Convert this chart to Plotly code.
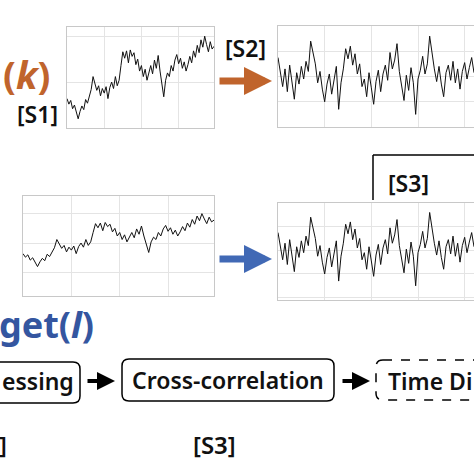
import plotly.graph_objects as go

raw = [3.2,2.6,3.0,2.1,2.5,1.6,1.0,1.8,2.4,2.0,3.1,2.7,3.6,4.2,5.6,4.8,4.1,4.6,3.5,4.3,3.8,4.5,3.2,4.4,5.0,4.3,5.6,4.6,5.2,6.8,
       8.3,7.6,8.4,7.1,8.5,7.8,8.2,6.9,7.5,6.2,6.8,5.6,6.4,5.2,6.0,6.8,5.9,7.4,6.5,7.9,6.2,5.0,3.4,5.2,6.0,5.6,6.8,6.2,7.4,8.0,
       7.0,7.6,6.5,7.2,6.2,6.9,7.8,7.1,8.4,7.7,9.0,8.2,9.6,8.8,10.0,9.1,8.3,9.4,8.6,8.9]
diff = [1.5,0.2,-0.8,0.6,-1.2,0.9,-0.4,-1.8,0.3,-0.6,0.8,-0.2,1.2,0.4,2.8,2.0,1.0,-0.5,0.4,-1.0,-2.0,-0.6,0.2,-1.4,-0.3,0.8,
        -2.6,-0.5,0.6,2.2,1.4,2.4,0.9,1.8,0.2,1.0,-0.8,-0.2,-1.6,0.3,-0.9,-2.2,-0.4,0.5,-1.2,0.2,0.9,-0.3,1.9,0.6,1.3,2.6,0.4,
        -0.7,-1.9,0.1,-1.1,0.7,-0.5,-3.0,-0.2,0.5,1.6,0.2,1.0,3.2,1.8,0.6,-0.4,0.8,-0.6,-1.6,0.3,0.9,-0.3,1.2,-0.5,0.6,-1.0,
        0.4,1.1,-0.2,0.7,1.5,0.3]

W = H = 474
def px(x): return x / W
def py(y): return 1 - y / H

panels = [  # (x0, x1, y0, y1, series, yrange)
    (67, 214, 27, 128, raw, [0, 11]),
    (278, 474, 26, 127, diff, [-4, 4]),
    (23, 214, 196, 296, raw, [-4, 13]),
    (278, 474, 203, 300, diff, [-4.2, 4]),
]

fig = go.Figure()
layout = dict(width=W, height=H, margin=dict(l=0, r=0, t=0, b=0),
              paper_bgcolor="white", plot_bgcolor="white", showlegend=False)
for i, (x0, x1, y0, y1, s, yr) in enumerate(panels):
    n = i + 1
    xa = "x" if n == 1 else f"x{n}"
    ya = "y" if n == 1 else f"y{n}"
    fig.add_trace(go.Scatter(x=list(range(len(s))), y=s, mode="lines",
                             line=dict(color="#111", width=1), xaxis=xa, yaxis=ya))
    ax = dict(showticklabels=False, ticks="", showgrid=True, gridcolor="#e4e4e4",
              showline=True, linecolor="#c8c8c8", mirror=True, zeroline=False, nticks=5)
    layout["xaxis" if n == 1 else f"xaxis{n}"] = dict(ax, domain=[px(x0), px(x1)], range=[0, len(s) - 1], anchor=ya)
    layout["yaxis" if n == 1 else f"yaxis{n}"] = dict(ax, domain=[py(y1), py(y0)], range=yr, anchor=xa)
fig.update_layout(**layout)

F = "Noto Sans"
def txt(x, y, t, size=22, color="#111", xanchor="center", weight=600):
    fig.add_annotation(x=px(x), y=py(y), xref="paper", yref="paper", text=t,
                       showarrow=False, xanchor=xanchor, yanchor="middle",
                       font=dict(family=F, size=size, color=color, weight=weight))

def arrow(x0, x1, y, color, width, size):
    fig.add_annotation(x=px(x1), y=py(y), ax=-(x1 - x0), ay=0, xref="paper", yref="paper",
                       axref="pixel", ayref="pixel", text="", showarrow=True,
                       arrowhead=2, arrowsize=size, arrowwidth=width, arrowcolor=color)

orange = "#c0642c"
blue = "#4169b5"
txt(1, 74, "(<i>k</i>)", size=38, color=orange, xanchor="left", weight=700)
txt(37, 114, "[S1]", size=23)
txt(245, 48, "[S2]", size=23)
txt(408, 183, "[S3]", size=23)
txt(-3, 324, "get(<i>l</i>)", size=36, color="#3456a0", xanchor="left", weight=700)
arrow(218, 272, 81, orange, 7, 0.8)
arrow(218, 272, 259, blue, 7, 0.8)

shapes = [
    dict(type="line", x0=px(373), x1=px(373), y0=py(155), y1=py(200), xref="paper", yref="paper", line=dict(color="black", width=1.5)),
    dict(type="line", x0=px(373), x1=px(476), y0=py(155), y1=py(155), xref="paper", yref="paper", line=dict(color="black", width=1.5)),
]
def rbox(x0, y0, x1, y1, dash="solid", r=7):
    p = (f"M {px(x0+r)},{py(y0)} L {px(x1-r)},{py(y0)} Q {px(x1)},{py(y0)} {px(x1)},{py(y0+r)} "
         f"L {px(x1)},{py(y1-r)} Q {px(x1)},{py(y1)} {px(x1-r)},{py(y1)} L {px(x0+r)},{py(y1)} "
         f"Q {px(x0)},{py(y1)} {px(x0)},{py(y1-r)} L {px(x0)},{py(y0+r)} Q {px(x0)},{py(y0)} {px(x0+r)},{py(y0)} Z")
    shapes.append(dict(type="path", path=p, xref="paper", yref="paper",
                       line=dict(color="black", width=1.5, dash=dash)))
rbox(-12, 362, 80, 403)
rbox(122, 359, 334, 401)
rbox(376, 360, 490, 400, dash="dash")
fig.update_layout(shapes=shapes)

txt(38, 381, "essing", size=23)
txt(228, 380, "Cross-correlation", size=23)
txt(386, 381, "Time Di", size=23, xanchor="left")
arrow(86, 115, 381, "black", 4, 0.9)
arrow(341, 370, 381, "black", 4, 0.9)
txt(3, 444, "]", size=24)
txt(214, 444, "[S3]", size=24)

fig.write_html("out.html", config={"displayModeBar": False},
               post_script="document.body.style.margin='0';")
